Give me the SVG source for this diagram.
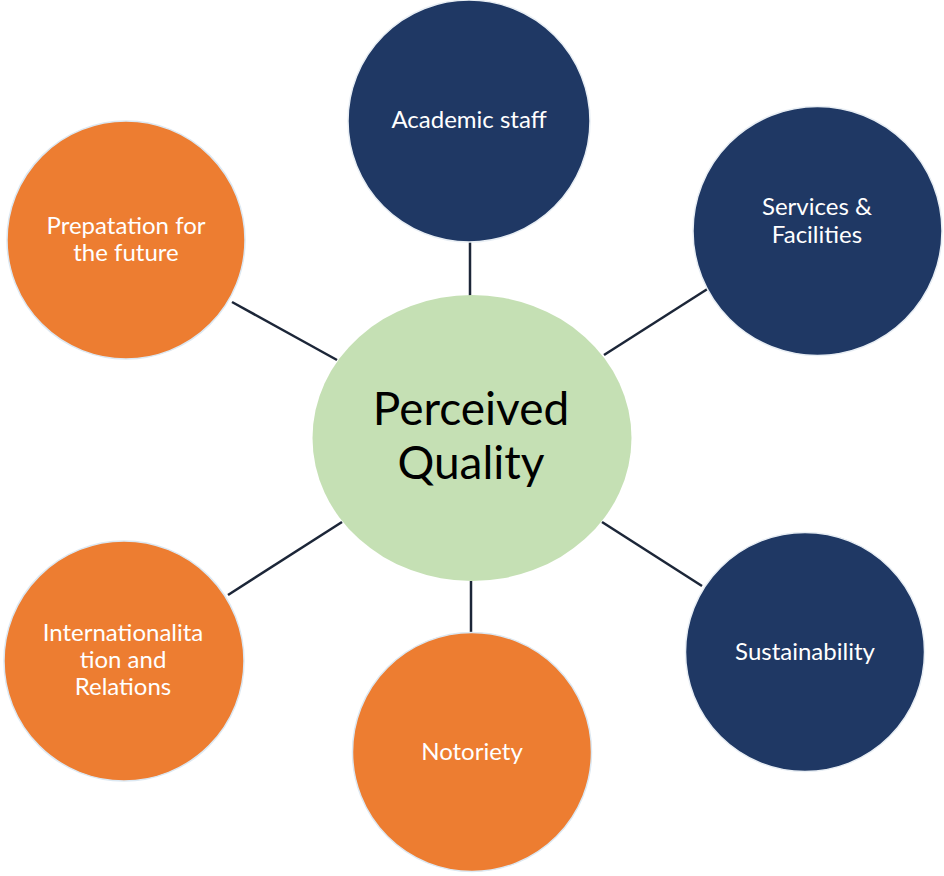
<svg xmlns="http://www.w3.org/2000/svg" width="944" height="876" viewBox="0 0 944 876">
<style>
.navy{fill:#1F3864;stroke:#E8EEF4;stroke-width:1.5}
.orange{fill:#ED7D31;stroke:#DCE8F2;stroke-width:1.5}
.center{fill:#C5E0B4}
.lbl{font-family:Lato,"Open Sans","Liberation Sans",sans-serif;font-size:24px;fill:#FFFFFF;text-anchor:middle}
.big{font-family:Lato,"Open Sans","Liberation Sans",sans-serif;font-size:46px;fill:#000000;text-anchor:middle}
.conn line{stroke:#1C2638;stroke-width:2.5}
</style>
<rect width="944" height="876" fill="#FFFFFF"/>
<g id="connectors" class="conn">
<line x1="470" y1="240" x2="470" y2="296"/>
<line x1="604" y1="355" x2="709" y2="288"/>
<line x1="602" y1="522" x2="702" y2="586"/>
<line x1="471" y1="581" x2="471" y2="632"/>
<line x1="342" y1="522" x2="228" y2="595"/>
<line x1="337" y1="360" x2="232" y2="302"/>
</g>
<g id="perceived-quality">
<ellipse class="center" cx="472" cy="438" rx="159.5" ry="143"/>
<text class="big" x="471" y="425">Perceived</text>
<text class="big" x="471" y="479">Quality</text>
</g>
<g id="academic-staff">
<circle class="navy" cx="469" cy="121" r="121"/>
<text class="lbl" x="469" y="128">Academic staff</text>
</g>
<g id="services-facilities">
<circle class="navy" cx="817.5" cy="231" r="124.5"/>
<text class="lbl" x="817" y="215">Services &amp;</text>
<text class="lbl" x="817" y="243">Facilities</text>
</g>
<g id="sustainability">
<circle class="navy" cx="805" cy="652" r="119.5"/>
<text class="lbl" x="805" y="660">Sustainability</text>
</g>
<g id="notoriety">
<circle class="orange" cx="472" cy="752" r="119.5"/>
<text class="lbl" x="472" y="760">Notoriety</text>
</g>
<g id="internationalitation">
<circle class="orange" cx="124" cy="661" r="120"/>
<text class="lbl" x="123" y="641">Internationalita</text>
<text class="lbl" x="123" y="668">tion and</text>
<text class="lbl" x="123" y="695">Relations</text>
</g>
<g id="preparation">
<circle class="orange" cx="126" cy="240" r="119"/>
<text class="lbl" x="126" y="234">Prepatation for</text>
<text class="lbl" x="126" y="261">the future</text>
</g>
</svg>
